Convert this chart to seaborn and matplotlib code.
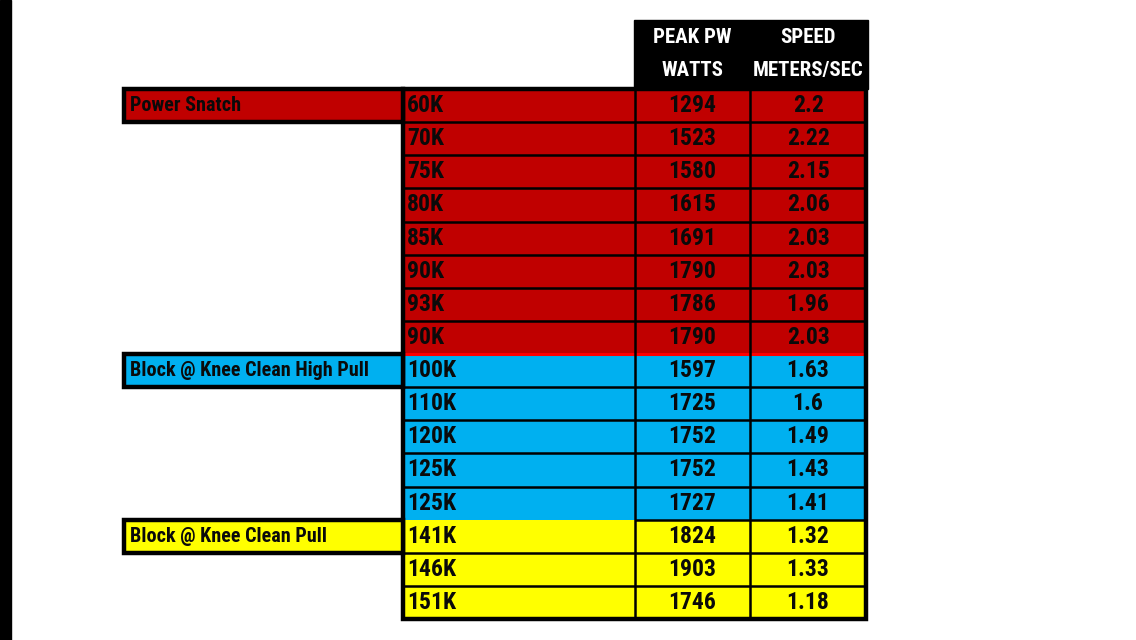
import numpy as np
import pandas as pd
import matplotlib
matplotlib.use("Agg")
import matplotlib.pyplot as plt
from matplotlib.colors import ListedColormap
from matplotlib.patches import Rectangle
from matplotlib import font_manager
import seaborn as sns

exercises = ["Power Snatch", "Block @ Knee Clean High Pull", "Block @ Knee Clean Pull"]
rows_per_exercise = [8, 5, 3]
loads = ["60K", "70K", "75K", "80K", "85K", "90K", "93K", "90K",
         "100K", "110K", "120K", "125K", "125K",
         "141K", "146K", "151K"]
peak_watts = [1294, 1523, 1580, 1615, 1691, 1790, 1786, 1790,
              1597, 1725, 1752, 1752, 1727,
              1824, 1903, 1746]
speed = [2.2, 2.22, 2.15, 2.06, 2.03, 2.03, 1.96, 2.03,
         1.63, 1.6, 1.49, 1.43, 1.41,
         1.32, 1.33, 1.18]
headers = ["PEAK PW\nWATTS", "SPEED\nMETERS/SEC"]
group_colors = ["#C00000", "#00B0F0", "#FFFF00"]

sns.set_style("white")
available = {f.name for f in font_manager.fontManager.ttflist}
font = "DejaVu Sans"
for name in ["Liberation Sans Narrow", "Roboto Condensed", "Open Sans Condensed", "DejaVu Sans"]:
    if name in available:
        font = name
        break
plt.rcParams["font.family"] = [font, "DejaVu Sans"]
plt.rcParams["font.stretch"] = "condensed"

n = len(loads)
group = np.repeat(np.arange(len(exercises)), rows_per_exercise)
# 4 equal columns: load takes two of them
grid = pd.DataFrame(np.repeat(group[:, None], 4, axis=1))

W, H = 1136, 640
fig = plt.figure(figsize=(W / 100, H / 100), dpi=100)
fig.patch.set_facecolor("white")
fig.add_artist(Rectangle((0, 0), 11 / W, 1, transform=fig.transFigure,
                         color="black", zorder=0))

left, right, top, bottom = 403, 866, 89, 619
ax = fig.add_axes([left / W, (H - bottom) / H, (right - left) / W, (bottom - top) / H])
sns.heatmap(grid, cmap=ListedColormap(group_colors), vmin=-0.5, vmax=2.5,
            cbar=False, linewidths=0, xticklabels=False, yticklabels=False, ax=ax)
ax.set_xlim(0, 4)
ax.set_ylim(n, 0)

# grid lines
starts = np.cumsum([0] + rows_per_exercise)
for r in range(1, n):
    if r == starts[1]:
        ax.hlines(r, 0, 4, color="#FF0000", lw=2.2, zorder=3)
    elif r == starts[2]:
        ax.hlines(r, 2, 4, color="black", lw=1.8, zorder=3)
    else:
        ax.hlines(r, 0, 4, color="black", lw=1.8, zorder=3)
ax.vlines([2, 3], 0, n, color="black", lw=1.8, zorder=3)
ax.add_patch(Rectangle((0, 0), 4, n, fill=False, ec="black", lw=3.2,
                       clip_on=False, zorder=4))

txt = dict(color="#0a0a0a", fontweight="bold", va="center")
for i in range(n):
    ax.text(0.035, i + 0.5, loads[i], ha="left", fontsize=17, **txt)
    ax.text(2.5, i + 0.5, str(peak_watts[i]), ha="center", fontsize=17, **txt)
    ax.text(3.5, i + 0.5, str(speed[i]), ha="center", fontsize=17, **txt)

# header block
colw = (right - left) / 4
rowh = (bottom - top) / n
hy = (top - 20) / rowh
ax.add_patch(Rectangle((2 - 1 / colw, -hy), 2 + 3 / colw, hy, color="black",
                       clip_on=False, zorder=4))
for k, h in enumerate(headers):
    line1, line2 = h.split("\n")
    ax.text(2.5 + k, -hy * 0.74, line1, ha="center", va="center", color="white",
            fontweight="bold", fontsize=15, clip_on=False, zorder=5)
    ax.text(2.5 + k, -hy * 0.27, line2, ha="center", va="center", color="white",
            fontweight="bold", fontsize=15, clip_on=False, zorder=5)

# exercise label boxes
bx = (left - 124) / colw
for g, name in enumerate(exercises):
    ax.add_patch(Rectangle((-bx, starts[g]), bx, 1, fc=group_colors[g], ec="black",
                           lw=3.2, clip_on=False, zorder=4))
    ax.text(-bx + 6 / colw, starts[g] + 0.5, name, ha="left", fontsize=14.5,
            clip_on=False, zorder=5, **txt)

fig.savefig("out.png", dpi=100, facecolor="white")
